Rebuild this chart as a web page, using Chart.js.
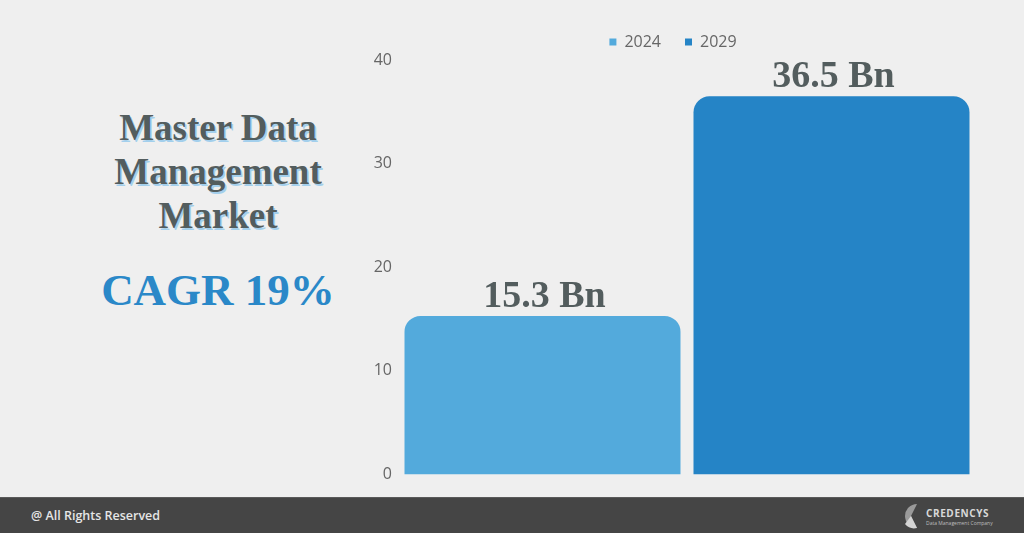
<!DOCTYPE html>
<html>
<head>
<meta charset="utf-8">
<script src="https://cdn.jsdelivr.net/npm/chart.js@4"></script>
<style>
    body { margin: 0; width: 1024px; height: 533px; background: #efefef; position: relative; overflow: hidden; font-family: "Open Sans", sans-serif; }
    .title { position: absolute; left: 60px; width: 316px; top: 106px; text-align: center; font-family: "Liberation Serif", serif; font-weight: bold; font-size: 37px; line-height: 44px; color: #535d5e; text-shadow: 1.5px 1.5px 0 #a3cfec; }
    .cagr { position: absolute; left: 60px; width: 316px; top: 264px; text-align: center; font-family: "Liberation Serif", serif; font-weight: bold; font-size: 45px; color: #2a88c8; }
    .chart-box { position: absolute; left: 370px; top: 10px; width: 630px; height: 480px; }
    .footer { position: absolute; left: 0; top: 497px; width: 1024px; height: 36px; background: #454545; border-top: 1px solid #5a5a5a; }
    .rights { position: absolute; left: 31px; top: 9px; color: #e6e6e6; font-weight: 600; font-size: 12.5px; }
    .logo { position: absolute; left: 902px; top: 5px; }
    .logo-name { position: absolute; left: 24px; top: 3px; color: #d8d8d8; font-weight: bold; font-size: 10px; letter-spacing: 0.6px; }
    .logo-sub { position: absolute; left: 24px; top: 17px; color: #bdbdbd; font-size: 5px; white-space: nowrap; }
</style>
</head>
<body>
<div class="title">Master Data<br>Management<br>Market</div>
<div class="cagr">CAGR 19%</div>
<div class="chart-box"><canvas id="marketChart"></canvas></div>
<div class="footer">
    <div class="rights">@ All Rights Reserved</div>
    <div class="logo">
        <svg width="22" height="26" viewBox="0 0 22 26">
            <path d="M15 1 A12 12 0 1 0 15 25 L9 13 Z" fill="#9a9a9a"/>
            <path d="M15 25 L9 13 L3 21 A12 12 0 0 0 15 25 Z" fill="#d4d4d4"/>
        </svg>
        <div class="logo-name">CREDENCYS</div>
        <div class="logo-sub">Data Management Company</div>
    </div>
</div>
<script>
const categories = [''];
const years = ['2024', '2029'];
const marketSize = [15.3, 36.5];
const barColors = ['#53aadc', '#2584c6'];
const yTicks = [0, 10, 20, 30, 40];

// value labels above each bar
const valueLabels = {
    id: 'valueLabels',
    afterDatasetsDraw(chart) {
        const ctx = chart.ctx;
        ctx.save();
        ctx.font = 'bold 38px "Liberation Serif", serif';
        ctx.fillStyle = '#535d5e';
        ctx.textAlign = 'center';
        ctx.textBaseline = 'alphabetic';
        chart.data.datasets.forEach((ds, i) => {
            const bar = chart.getDatasetMeta(i).data[0];
            ctx.fillText(ds.data[0] + ' Bn', bar.x + 2, bar.y - 9);
        });
        ctx.restore();
    }
};

new Chart(document.getElementById('marketChart'), {
    type: 'bar',
    data: {
        labels: categories,
        datasets: years.map((y, i) => ({
            label: y,
            data: [marketSize[i]],
            backgroundColor: barColors[i],
            borderRadius: { topLeft: 16, topRight: 16 },
            borderSkipped: 'bottom',
            categoryPercentage: 1.0,
            barPercentage: 0.955
        }))
    },
    options: {
        responsive: true,
        maintainAspectRatio: false,
        animation: false,
        layout: { padding: { left: 0, right: 24, top: 0, bottom: 7 } },
        plugins: {
            legend: {
                position: 'top',
                labels: {
                    usePointStyle: true,
                    pointStyle: 'rect',
                    boxWidth: 7,
                    boxHeight: 7,
                    padding: 24,
                    color: '#666',
                    font: { family: '"Open Sans", sans-serif', size: 16 }
                }
            },
            tooltip: { enabled: false }
        },
        scales: {
            x: { display: false },
            y: {
                min: 0,
                max: 40,
                afterBuildTicks: s => { s.ticks = yTicks.map(v => ({ value: v })); },
                afterFit: s => { s.width = 28; },
                grid: { display: false, drawTicks: false },
                border: { display: false },
                ticks: { padding: 6, color: '#666', font: { family: '"Open Sans", sans-serif', size: 16 } }
            }
        }
    },
    plugins: [valueLabels]
});
</script>
</body>
</html>
